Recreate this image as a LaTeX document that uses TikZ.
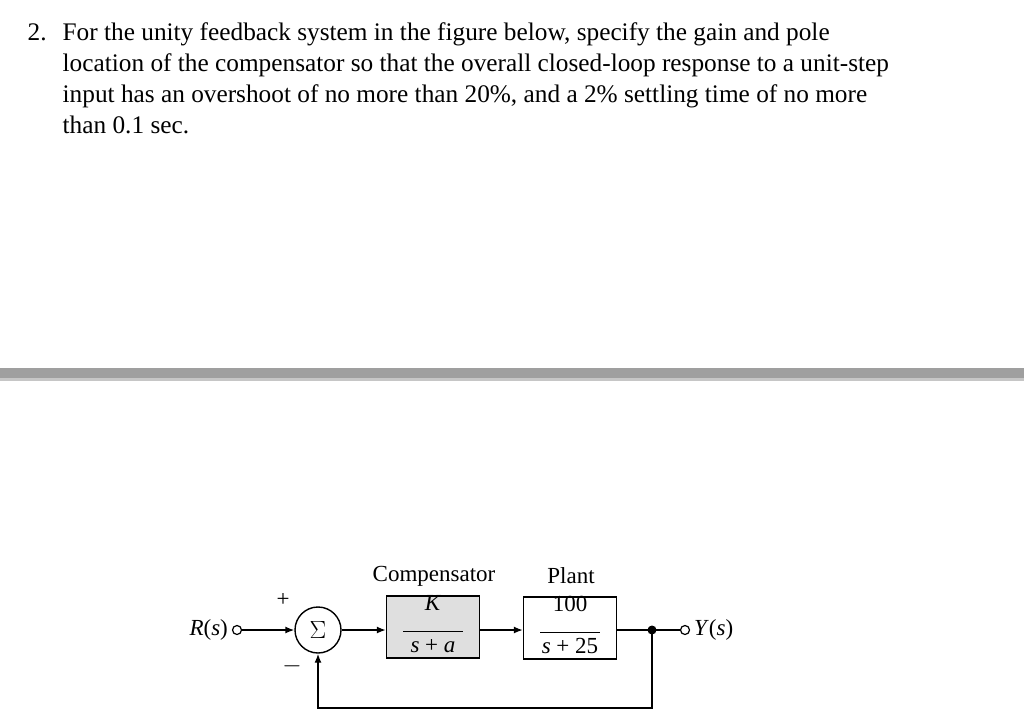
\documentclass[tikz,border=0pt]{standalone}
\usepackage{fontspec}
\setmainfont{Liberation Serif}
\usetikzlibrary{arrows.meta}
\newcommand{\myfrac}[2]{\begin{tabular}{@{}c@{}}#1\\[-3pt]\rule{60pt}{1.1pt}\\[-3pt]#2\end{tabular}}
\begin{document}
\begin{tikzpicture}[x=1pt,y=-1pt,line width=1.4pt,
  blk/.style={draw,minimum width=93pt,minimum height=62pt,inner sep=0pt},
  port/.style={draw,circle,fill=white,minimum size=9pt,inner sep=0pt,line width=1.2pt},
  lbl/.style={font=\fontsize{23}{24}\selectfont},
  arr/.style={-{Latex[length=9pt,width=7pt]}}]
\useasboundingbox (0,0) rectangle (1024,725);
\node[anchor=north west,align=left,inner sep=0pt,font=\fontsize{25.3}{31}\selectfont] (txt) at (27,22)
{2.\hspace{16pt}\parbox[t]{950pt}{\raggedright For the unity feedback system in the figure below, specify the gain and pole\\ location of the compensator so that the overall closed-loop response to a unit-step\\ input has an overshoot of no more than 20\%, and a 2\% settling time of no more\\ than 0.1 sec.}};
\fill[gray!75] (0,368) rectangle (1024,380);
\fill[gray!45] (0,378) rectangle (1024,381);
\node[draw,circle,minimum size=46pt,inner sep=0pt,lbl] (sum) at (318,630) {$\Sigma$};
\node[port] (r) at (237,630) {};
\node[lbl,anchor=east] (rl) at (r.west) {\textit{R}(\textit{s})};
\node[blk,fill=gray!25] (comp) at (433,627) {};
\node[lbl] (ck) at (433,627) {\myfrac{\textit{K}}{\textit{s} + \textit{a}}};
\node[blk] (plant) at (570,628) {};
\node[lbl] (pk) at (570,628) {\myfrac{100}{\textit{s} + 25}};
\node[lbl] (cl) at (434,576) {Compensator};
\node[lbl] (pl) at (571,576) {Plant};
\coordinate (j) at (652,630);
\fill (j) circle (4.5pt);
\node[port] (y) at (685,630) {};
\node[lbl,anchor=west] (yl) at (y.east) {\textit{Y}(\textit{s})};
\node[lbl] (plus) at (283,600) {+};
\node[lbl] (minus) at (292,666) {$-$};
\coordinate (b1) at (652,708);
\coordinate (b2) at (318,708);
\draw[arr] (r) -- (sum);
\draw[arr] (sum) -- (comp.west |- sum);
\draw[arr] (comp.east |- sum) -- (plant.west |- sum);
\draw (plant.east |- sum) -- (j) -- (y);
\draw[arr] (j) -- (b1) -- (b2) -- (sum.south);
\end{tikzpicture}
\end{document}
